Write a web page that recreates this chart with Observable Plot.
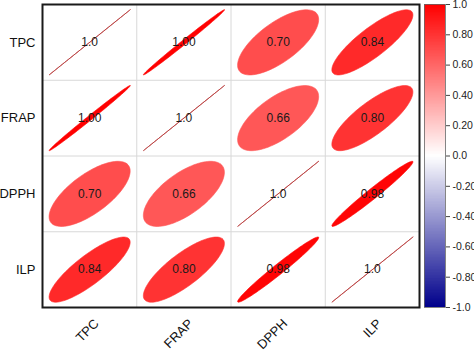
<!DOCTYPE html>
<html>
<head>
<meta charset="utf-8">
<script src="https://cdn.jsdelivr.net/npm/d3@7"></script>
<script src="https://cdn.jsdelivr.net/npm/@observablehq/plot@0.6"></script>
<style>
  body { margin: 0; background: white; }
  #wrap { position: relative; width: 474px; height: 352px; font-family: "Liberation Sans", Arial, sans-serif; overflow: hidden; }
  #wrap svg { position: absolute; left: 0; top: 0; overflow: visible; max-width: none; background: transparent; }
</style>
</head>
<body>
<div id="wrap"></div>
<script>
// ---- data ----
const vars = ["TPC", "FRAP", "DPPH", "ILP"];
const corrTPC  = [1.0, 0.996, 0.70, 0.84];
const corrFRAP = [0.996, 1.0, 0.66, 0.80];
const corrDPPH = [0.70, 0.66, 1.0, 0.98];
const corrILP  = [0.84, 0.80, 0.98, 1.0];
const labelTPC  = ["1.0", "1.00", "0.70", "0.84"];
const labelFRAP = ["1.00", "1.0", "0.66", "0.80"];
const labelDPPH = ["0.70", "0.66", "1.0", "0.98"];
const labelILP  = ["0.84", "0.80", "0.98", "1.0"];
const cbTicks  = [-1, -0.8, -0.6, -0.4, -0.2, 0, 0.2, 0.4, 0.6, 0.8, 1];
const cbLabels = ["-1.0", "-0.80", "-0.60", "-0.40", "-0.20", "0.0", "0.20", "0.40", "0.60", "0.80", "1.0"];

const corrRows = [corrTPC, corrFRAP, corrDPPH, corrILP];
const labelRows = [labelTPC, labelFRAP, labelDPPH, labelILP];

const colorOpts = {type: "linear", domain: [-1, 0, 1], range: ["#00008B", "#FFFFFF", "#FF0000"], interpolate: "rgb"};

const cells = [];
corrRows.forEach((row, i) => row.forEach((r, j) => {
  cells.push({row: i + 1, col: j + 1, r, label: labelRows[i][j], id: i * 4 + j});
}));

// ellipse outlines (corrplot-style shape) in data coordinates
const S = 0.86, N = 99;
const pts = [];
for (const c of cells) {
  const d = Math.acos(Math.min(1, c.r));
  for (let k = 0; k < N; k++) {
    const t = 2 * Math.PI * k / (N - 1);
    const ex = Math.cos(t + d / 2) / 2;
    const ey = Math.cos(t - d / 2) / 2;
    pts.push({id: c.id, r: c.r, x: c.col + S * ex, y: c.row - S * ey});
  }
}
const ptsFilled = pts.filter(p => p.r < 1);
const ptsDiag = pts.filter(p => p.r >= 1);

const main = Plot.plot({
  width: 474, height: 352,
  marginLeft: 42, marginRight: 55, marginTop: 4, marginBottom: 45,
  style: {fontFamily: "Liberation Sans, Arial, sans-serif", background: "transparent"},
  x: {domain: [0.5, 4.5], axis: null},
  y: {domain: [0.5, 4.5], reverse: true, axis: null},
  color: colorOpts,
  marks: [
    Plot.ruleX([1.5, 2.5, 3.5], {stroke: "#d8d8d8", strokeWidth: 1}),
    Plot.ruleY([1.5, 2.5, 3.5], {stroke: "#d8d8d8", strokeWidth: 1}),
    Plot.line(ptsFilled, {x: "x", y: "y", z: "id", fill: "r", stroke: "r", strokeWidth: 0.6, curve: "linear"}),
    Plot.line(ptsDiag, {x: "x", y: "y", z: "id", stroke: "#b83a3a", strokeWidth: 0.8, curve: "linear"}),
    Plot.text(cells, {x: "col", y: "row", text: "label", fontSize: 12, fill: "#1a1a1a"}),
    Plot.text(vars, {x: 0.5, y: (d, i) => i + 1, text: d => d, textAnchor: "end", dx: -7, fontSize: 13, fill: "#111"}),
    Plot.text(vars, {x: (d, i) => i + 1, frameAnchor: "bottom", text: d => d, rotate: -45, textAnchor: "end", lineAnchor: "middle", dx: 7, dy: 14, fontSize: 13, fill: "#111"}),
    Plot.frame({stroke: "#1a1a1a", strokeWidth: 2})
  ]
});

// colour bar
const nSteps = 200;
const steps = d3.range(nSteps).map(i => ({y1: -1 + 2 * i / nSteps, y2: -1 + 2 * (i + 1.6) / nSteps, v: -1 + 2 * (i + 0.5) / nSteps}));
const bar = Plot.plot({
  width: 474, height: 352,
  marginLeft: 424, marginRight: 29, marginTop: 4, marginBottom: 45,
  style: {fontFamily: "Liberation Sans, Arial, sans-serif", background: "transparent"},
  x: {domain: [0, 1], axis: null},
  y: {domain: [-1, 1], axis: null},
  color: colorOpts,
  marks: [
    Plot.rect(steps, {x1: 0, x2: 1, y1: d => Math.max(-1, d.y1), y2: d => Math.min(1, d.y2), fill: "v"}),
    Plot.frame({stroke: "#666", strokeWidth: 0.8}),
    Plot.axisY(cbTicks, {anchor: "right", tickSize: 4, tickPadding: 3, tickFormat: (d, i) => cbLabels[i], fontSize: 10.5, stroke: "#444", fill: "#222"})
  ]
});

const wrap = document.getElementById("wrap");
wrap.appendChild(main);
wrap.appendChild(bar);
</script>
</body>
</html>
